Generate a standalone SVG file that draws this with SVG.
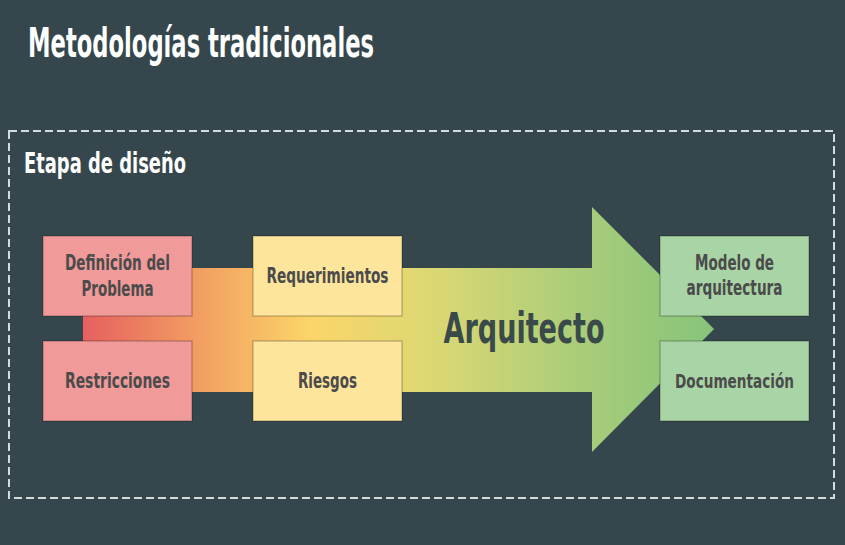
<svg xmlns="http://www.w3.org/2000/svg" width="845" height="545" viewBox="0 0 845 545">
<defs>
<linearGradient id="flow" x1="83" y1="0" x2="715" y2="0" gradientUnits="userSpaceOnUse">
<stop offset="0" stop-color="#e6605f"/>
<stop offset="0.2" stop-color="#f3a462"/>
<stop offset="0.36" stop-color="#fbd568"/>
<stop offset="0.55" stop-color="#dcd873"/>
<stop offset="0.8" stop-color="#a7cc7a"/>
<stop offset="1" stop-color="#86c47a"/>
</linearGradient>
</defs>
<style>
text{font-family:"Liberation Sans Narrow","DejaVu Sans",sans-serif;font-stretch:condensed;font-weight:bold;}
.t{fill:#ffffff;}
.n{fill:#4b4b4b;font-size:22px;text-anchor:middle;}
.box{stroke:#000;stroke-opacity:0.22;stroke-width:1.5;}
.red{fill:#f09a9a;}
.yel{fill:#fde59c;}
.grn{fill:#a9d5a6;}
</style>
<rect width="845" height="545" fill="#35474c"/>
<text class="t" x="28" y="57" font-size="40" textLength="346" lengthAdjust="spacingAndGlyphs">Metodologías tradicionales</text>
<g id="etapa">
<rect x="9" y="131" width="825" height="367" fill="none" stroke="#d3dbdb" stroke-width="2" stroke-dasharray="8 4"/>
<text class="t" x="24" y="173" font-size="29" textLength="162" lengthAdjust="spacingAndGlyphs">Etapa de diseño</text>
</g>
<g id="connectors">
<path d="M83 268 H592 V207 L714 329 L592 452 V392 H83 Z" fill="url(#flow)"/>
<text x="524" y="343" font-size="42" text-anchor="middle" fill="#3a4a4a" textLength="161" lengthAdjust="spacingAndGlyphs">Arquitecto</text>
</g>
<g id="definicion">
<rect class="box red" x="43" y="236" width="149" height="80"/>
<text class="n" x="117.5" y="270" textLength="105" lengthAdjust="spacingAndGlyphs">Definición del</text>
<text class="n" x="117.5" y="296" textLength="72" lengthAdjust="spacingAndGlyphs">Problema</text>
</g>
<g id="restricciones">
<rect class="box red" x="43" y="341" width="149" height="80"/>
<text class="n" x="117.5" y="388" textLength="105" lengthAdjust="spacingAndGlyphs">Restricciones</text>
</g>
<g id="requerimientos">
<rect class="box yel" x="253" y="236" width="149" height="80"/>
<text class="n" x="327.5" y="283" textLength="122" lengthAdjust="spacingAndGlyphs">Requerimientos</text>
</g>
<g id="riesgos">
<rect class="box yel" x="253" y="341" width="149" height="80"/>
<text class="n" x="327.5" y="388" textLength="59" lengthAdjust="spacingAndGlyphs">Riesgos</text>
</g>
<g id="modelo">
<rect class="box grn" x="660" y="236" width="149" height="80"/>
<text class="n" x="734.5" y="270" textLength="79" lengthAdjust="spacingAndGlyphs">Modelo de</text>
<text class="n" x="734.5" y="295" textLength="96" lengthAdjust="spacingAndGlyphs">arquitectura</text>
</g>
<g id="documentacion">
<rect class="box grn" x="660" y="341" width="149" height="80"/>
<text class="n" x="734.5" y="388" style="font-size:20px" textLength="119" lengthAdjust="spacingAndGlyphs">Documentación</text>
</g>
</svg>
